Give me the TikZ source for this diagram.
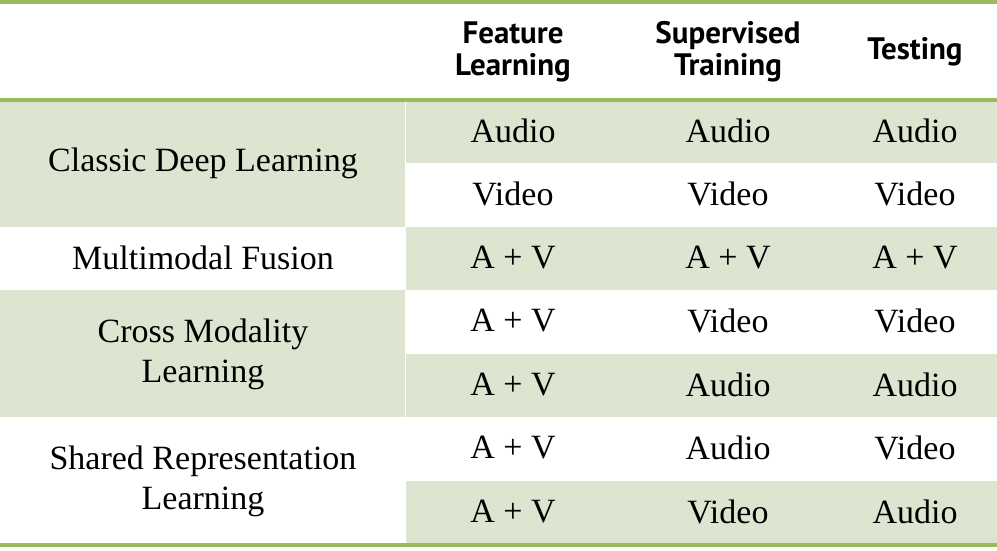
\documentclass[tikz,border=0pt]{standalone}
\usepackage{fontspec}
\setmainfont{Liberation Serif}
\setsansfont{PT Sans}
\definecolor{rowg}{HTML}{DDE5D0}
\definecolor{ruleg}{HTML}{9BBB59}
\begin{document}
\begin{tikzpicture}[x=1pt,y=-1pt,
  cell/.style={align=center,font=\fontsize{34}{40}\selectfont,inner sep=0pt},
  head/.style={align=center,font=\fontsize{31}{32}\selectfont\sffamily\bfseries,inner sep=0pt}]
\useasboundingbox (0,0) rectangle (997,550);
% shading
\fill[rowg] (0,100) rectangle (405,227);
\fill[rowg] (406,100) rectangle (997,163);
\fill[rowg] (406,227) rectangle (997,290);
\fill[rowg] (0,290) rectangle (405,417);
\fill[rowg] (406,354) rectangle (997,417);
\fill[rowg] (406,481) rectangle (997,544);
% rules
\draw[ruleg,line width=4pt] (0,2) -- (997,2);
\draw[ruleg,line width=4pt] (0,100) -- (997,100);
\draw[ruleg,line width=4pt] (0,545) -- (997,545);
% header
\node[head] (h1) at (513,52) {Feature\\Learning};
\node[head] (h2) at (728,52) {Supervised\\Training};
\node[head] (h3) at (915,52) {Testing};
% labels
\node[cell] (l1) at (203,163) {Classic Deep Learning};
\node[cell] (l2) at (203,258) {Multimodal Fusion};
\node[cell] (l3) at (203,354) {Cross Modality\\Learning};
\node[cell] (l4) at (203,481) {Shared Representation\\Learning};
% body
\foreach \y/\a/\b/\c [count=\i] in {131/Audio/Audio/Audio,194/Video/Video/Video,258/A + V/A + V/A + V,321/A + V/Video/Video,385/A + V/Audio/Audio,448/A + V/Audio/Video,512/A + V/Video/Audio}{
  \node[cell] (r\i a) at (513,\y) {\a};
  \node[cell] (r\i b) at (728,\y) {\b};
  \node[cell] (r\i c) at (915,\y) {\c};
}
\end{tikzpicture}
\end{document}
